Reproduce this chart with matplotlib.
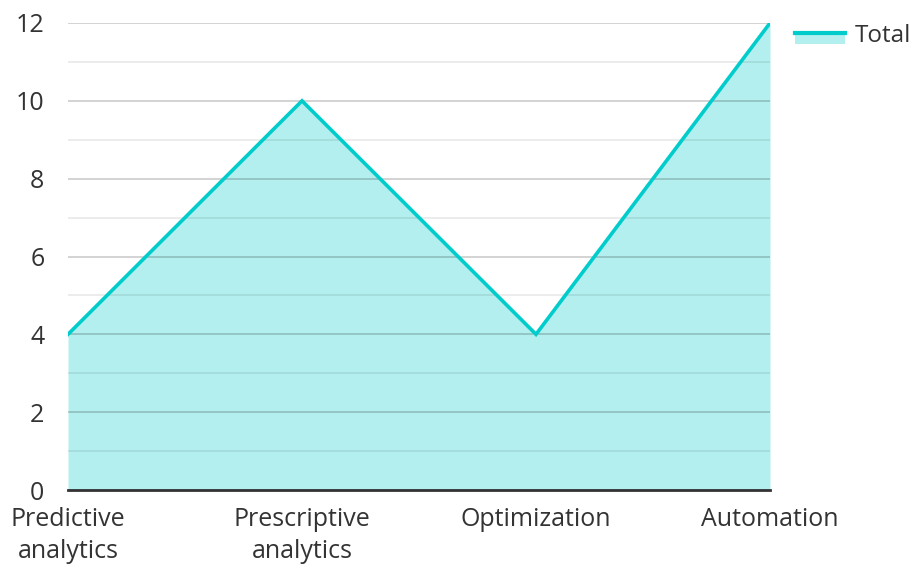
import matplotlib
matplotlib.use("Agg")
import matplotlib.pyplot as plt
from matplotlib.legend_handler import HandlerBase
from matplotlib.lines import Line2D
from matplotlib.patches import Rectangle

categories = ["Predictive\nanalytics", "Prescriptive\nanalytics", "Optimization", "Automation"]
totals = [4, 10, 4, 12]
y_ticks = [0, 2, 4, 6, 8, 10, 12]
series_name = "Total"

LINE = "#00cccc"
FILL = "#b2efee"
TEXT = "#333333"

plt.rcParams["font.family"] = ["Open Sans", "DejaVu Sans"]


class AreaHandler(HandlerBase):
    # line on top, filled band underneath, like the area legend key
    def create_artists(self, legend, orig, xd, yd, width, height, fontsize, trans):
        mid = yd + height * 0.55
        patch = Rectangle((xd, yd - height * 0.1), width, height * 0.65,
                          facecolor=FILL, edgecolor="none", transform=trans)
        line = Line2D([xd, xd + width], [mid, mid], color=LINE, lw=3, transform=trans)
        return [patch, line]


fig = plt.figure(figsize=(9.11, 5.64), dpi=100)
ax = fig.add_axes([68 / 911, 1 - 490 / 564, (770 - 68) / 911, (490 - 23) / 564])

x = list(range(len(categories)))
ax.fill_between(x, totals, 0, color=FILL, lw=0, zorder=1)
line, = ax.plot(x, totals, color=LINE, lw=2.6, zorder=3, solid_joinstyle="miter")

ax.set_xlim(0, len(categories) - 1)
ax.set_ylim(0, 12)
ax.set_yticks(y_ticks)
ax.set_yticks([1, 3, 5, 7, 9, 11], minor=True)
ax.set_xticks(x)
ax.set_xticklabels(categories, linespacing=1.36)
ax.grid(axis="y", which="major", color="black", alpha=0.2, lw=1.2, zorder=2)
ax.grid(axis="y", which="minor", color="black", alpha=0.09, lw=1.2, zorder=2)
ax.set_axisbelow(False)

for side in ["top", "right", "left"]:
    ax.spines[side].set_visible(False)
ax.spines["bottom"].set_color(TEXT)
ax.spines["bottom"].set_linewidth(2)
ax.spines["bottom"].set_zorder(4)

ax.tick_params(axis="both", which="both", length=0, labelsize=18, colors=TEXT)
ax.tick_params(axis="y", pad=17)
ax.tick_params(axis="x", pad=12)

fig.legend([line], [series_name], handler_map={line: AreaHandler()},
           loc="upper left", bbox_to_anchor=(795 / 911, 1 - 24 / 564), frameon=False,
           borderpad=0, borderaxespad=0, fontsize=17.5, handlelength=2.05,
           handletextpad=0.4, labelcolor=TEXT)

fig.savefig("out.png", dpi=100)
